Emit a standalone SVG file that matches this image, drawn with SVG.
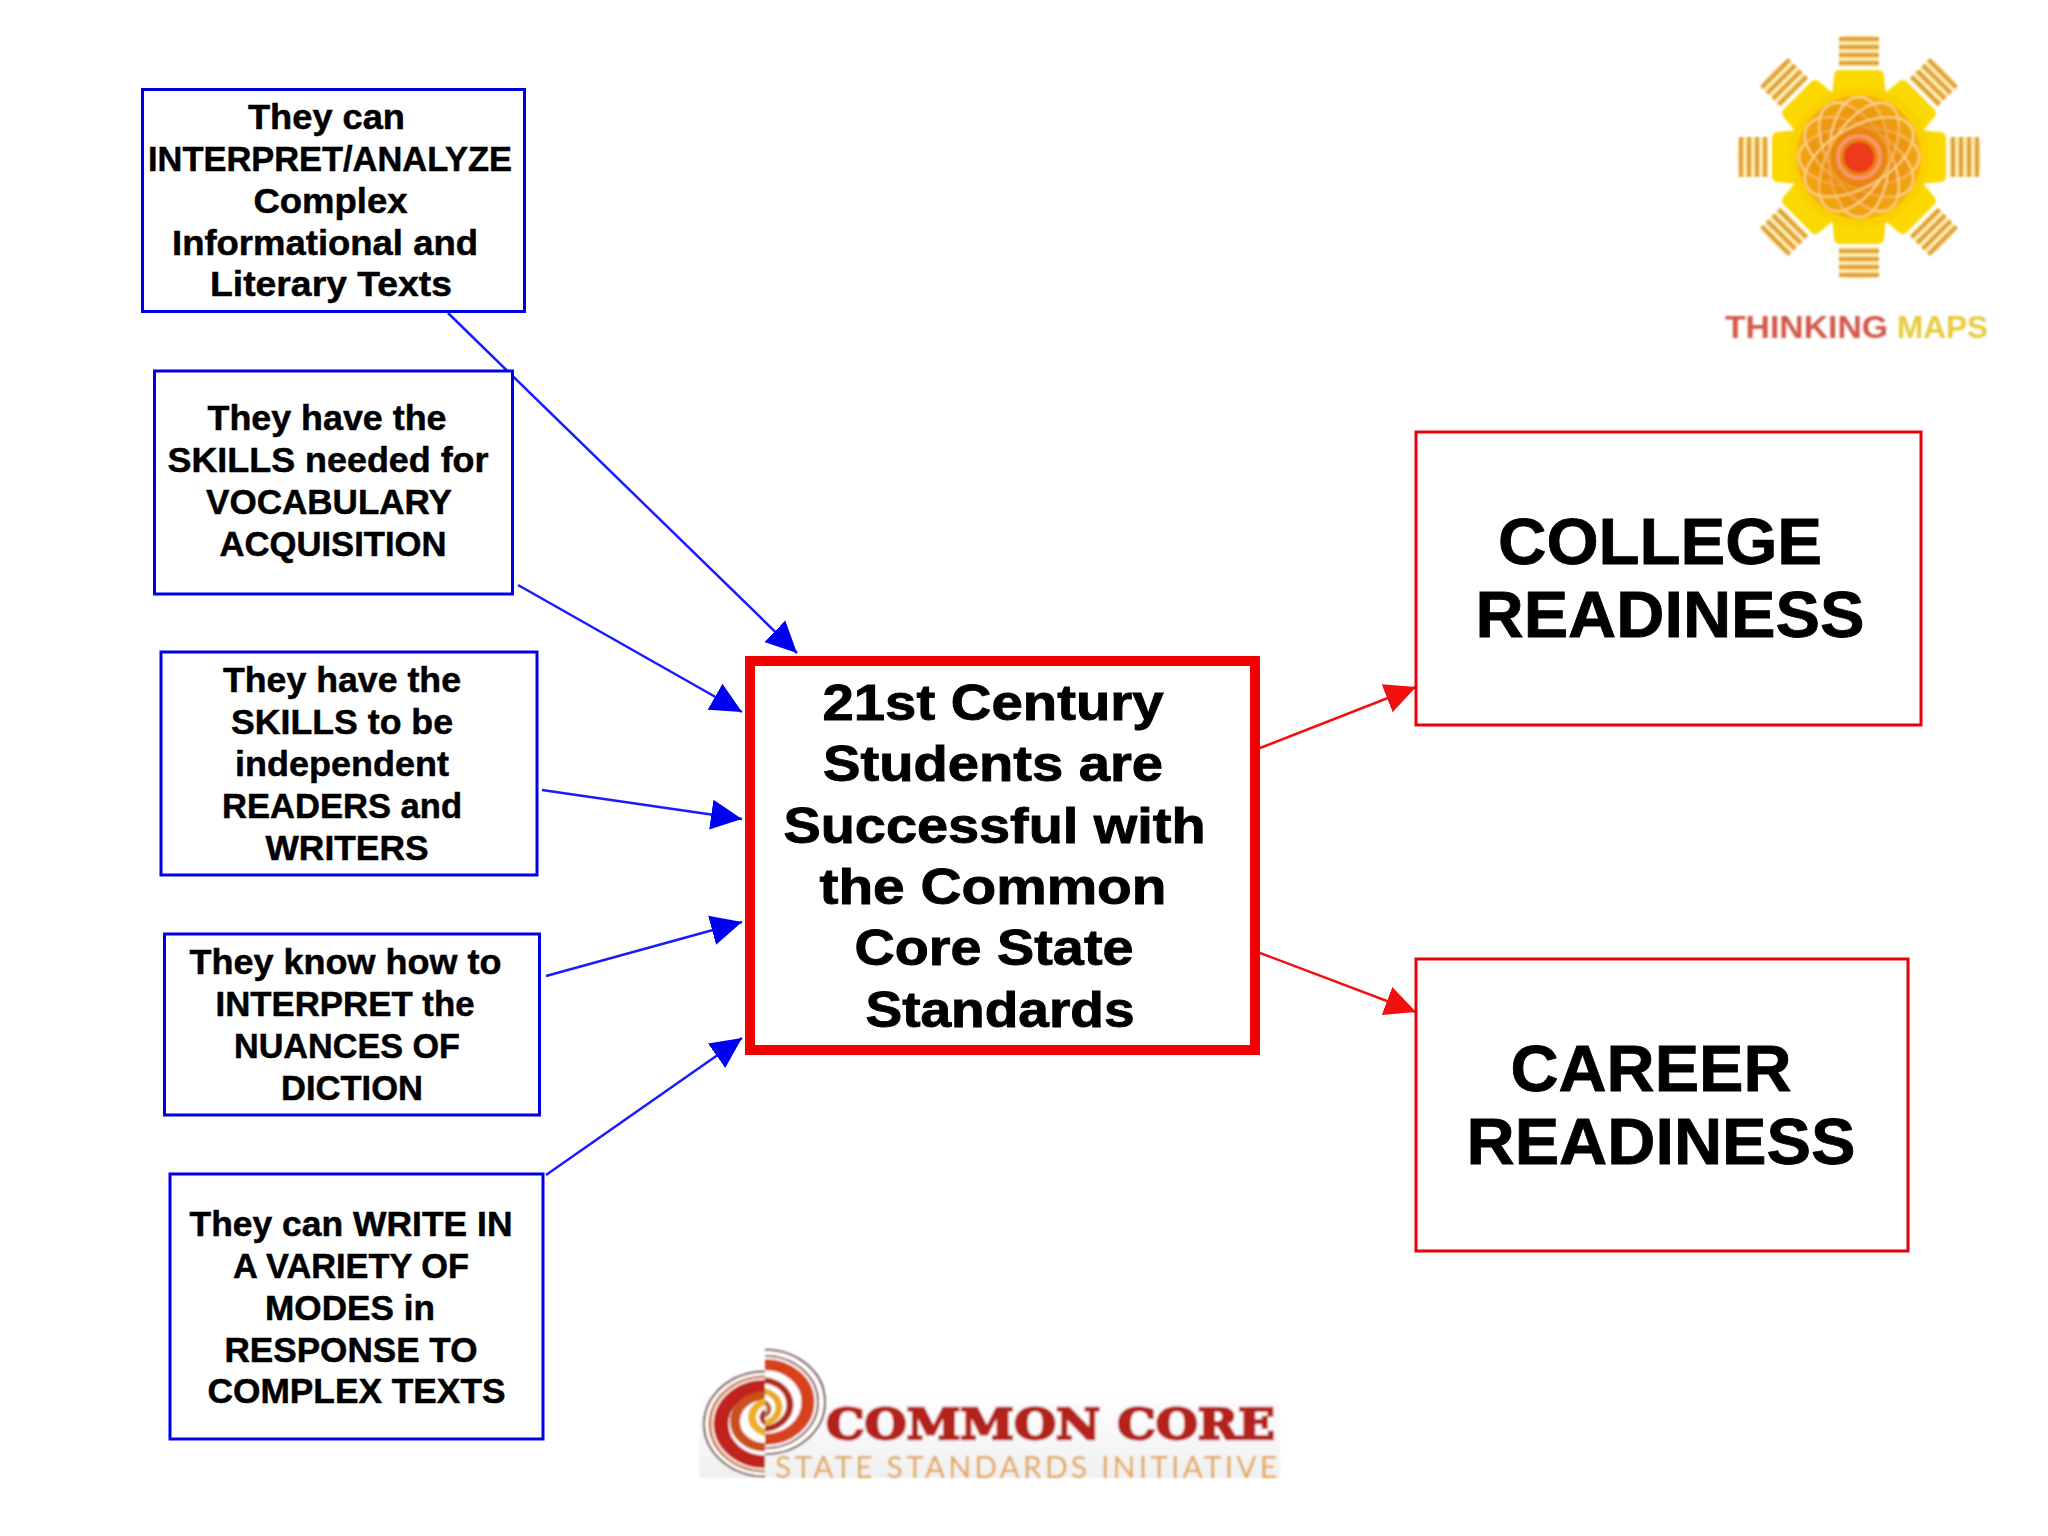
<svg xmlns="http://www.w3.org/2000/svg" xmlns:xlink="http://www.w3.org/1999/xlink" width="2048" height="1536" viewBox="0 0 2048 1536">
<style>
text{font-family:"Liberation Sans",Arial,sans-serif;font-weight:700;fill:#000;text-anchor:middle}
.s,.c,.r{stroke:#000;stroke-width:.5px}
.s{font-size:35.5px}
.c{font-size:50px;stroke-width:.9px}
.r{font-size:64px;stroke-width:.8px}
.bb{fill:#fff;stroke:#0000e6;stroke-width:3}
.rb{fill:#fff;stroke:#e6000a;stroke-width:3}
.ba{stroke:#1a1aff;stroke-width:2.5;fill:none;marker-end:url(#ah)}
.ra{stroke:#f01010;stroke-width:2.5;fill:none;marker-end:url(#rh)}
.petal{fill:#e8800a;fill-opacity:.26;stroke:#ffd88a;stroke-width:1.800}
.arc{fill:none}
</style>
<defs>
<filter id="soft" x="-5%" y="-5%" width="110%" height="110%"><feGaussianBlur stdDeviation=".8"/></filter>
<marker id="ah" markerUnits="userSpaceOnUse" markerWidth="34" markerHeight="32" refX="31" refY="16" orient="auto"><path d="M0 1L31 16L0 31Z" fill="#0000f0"/></marker>
<marker id="rh" markerUnits="userSpaceOnUse" markerWidth="34" markerHeight="32" refX="31" refY="16" orient="auto"><path d="M0 1L31 16L0 31Z" fill="#f01010"/></marker>
<clipPath id="capc"><path d="M-20 -90L-20 -120A123 123 0 0 1 20 -120L20 -90Z"/></clipPath>
<g id="ray">
<path d="M-27 -60L-25 -82Q-24 -87 -19 -87L19 -87Q24 -87 25 -82L27 -60Z" fill="#fbd800"/>
<g clip-path="url(#capc)"><rect x="-20" y="-124" width="40" height="34" fill="#fff0b0"/><path stroke="#e0a030" stroke-width="4.500" d="M-22 -94H22M-22 -102H22M-22 -110H22M-22 -118H22"/></g>
</g>
<ellipse id="pet" cx="0" cy="0" rx="60" ry="30" class="petal"/>
<clipPath id="lh"><rect x="695" y="1360" width="70" height="130"/></clipPath>
<clipPath id="rhc"><rect x="765" y="1340" width="80" height="130"/></clipPath>
<linearGradient id="ccbg" x1="0" y1="0" x2="0" y2="1"><stop offset="0" stop-color="#fff"/><stop offset="1" stop-color="#f0f0f0"/></linearGradient>
</defs>

<g id="connectors">
<path class="ba" d="M448 313L797 653"/>
<path class="ba" d="M518 585L742 712"/>
<path class="ba" d="M542 790L742 819"/>
<path class="ba" d="M546 976L742 922"/>
<path class="ba" d="M546 1175L742 1038"/>
<path class="ra" d="M1260 748L1416 687"/>
<path class="ra" d="M1260 953L1416 1012"/>
</g>

<g id="node1"><rect class="bb" x="142.500" y="89.500" width="382" height="222"/>
<text class="s" x="326.500" y="129" textLength="157" lengthAdjust="spacingAndGlyphs">They can</text><text class="s" x="330" y="171" textLength="364" lengthAdjust="spacingAndGlyphs">INTERPRET/ANALYZE</text><text class="s" x="330.500" y="213" textLength="154" lengthAdjust="spacingAndGlyphs">Complex</text><text class="s" x="325" y="255" textLength="306" lengthAdjust="spacingAndGlyphs">Informational and</text><text class="s" x="331" y="296" textLength="242" lengthAdjust="spacingAndGlyphs">Literary Texts</text></g>
<g id="node2"><rect class="bb" x="154.500" y="371" width="358" height="223"/>
<text class="s" x="327" y="430" textLength="239" lengthAdjust="spacingAndGlyphs">They have the</text><text class="s" x="328" y="472" textLength="321" lengthAdjust="spacingAndGlyphs">SKILLS needed for</text><text class="s" x="329" y="514" textLength="246" lengthAdjust="spacingAndGlyphs">VOCABULARY</text><text class="s" x="333" y="556" textLength="227" lengthAdjust="spacingAndGlyphs">ACQUISITION</text></g>
<g id="node3"><rect class="bb" x="161" y="652" width="376" height="223"/>
<text class="s" x="342" y="692" textLength="238" lengthAdjust="spacingAndGlyphs">They have the</text><text class="s" x="342" y="734" textLength="222" lengthAdjust="spacingAndGlyphs">SKILLS to be</text><text class="s" x="342" y="776" textLength="214" lengthAdjust="spacingAndGlyphs">independent</text><text class="s" x="342" y="818" textLength="240" lengthAdjust="spacingAndGlyphs">READERS and</text><text class="s" x="347" y="860" textLength="163" lengthAdjust="spacingAndGlyphs">WRITERS</text></g>
<g id="node4"><rect class="bb" x="164.500" y="934" width="375" height="181"/>
<text class="s" x="345.500" y="974" textLength="312" lengthAdjust="spacingAndGlyphs">They know how to</text><text class="s" x="345" y="1016" textLength="259" lengthAdjust="spacingAndGlyphs">INTERPRET the</text><text class="s" x="347" y="1058" textLength="226" lengthAdjust="spacingAndGlyphs">NUANCES OF</text><text class="s" x="352" y="1100" textLength="142" lengthAdjust="spacingAndGlyphs">DICTION</text></g>
<g id="node5"><rect class="bb" x="170" y="1174" width="373" height="265"/>
<text class="s" x="351" y="1236" textLength="323" lengthAdjust="spacingAndGlyphs">They can WRITE IN</text><text class="s" x="351" y="1278" textLength="236" lengthAdjust="spacingAndGlyphs">A VARIETY OF</text><text class="s" x="350" y="1320" textLength="170" lengthAdjust="spacingAndGlyphs">MODES in</text><text class="s" x="351" y="1362" textLength="253" lengthAdjust="spacingAndGlyphs">RESPONSE TO</text><text class="s" x="356.500" y="1403" textLength="298" lengthAdjust="spacingAndGlyphs">COMPLEX TEXTS</text></g>
<g id="center"><rect x="750" y="661" width="505" height="389" fill="#fff" stroke="#f00000" stroke-width="10"/>
<text class="c" x="993" y="720" textLength="341" lengthAdjust="spacingAndGlyphs">21st Century</text><text class="c" x="993" y="781" textLength="340" lengthAdjust="spacingAndGlyphs">Students are</text><text class="c" x="994.500" y="843" textLength="422" lengthAdjust="spacingAndGlyphs">Successful with</text><text class="c" x="993" y="904" textLength="347" lengthAdjust="spacingAndGlyphs">the Common</text><text class="c" x="994" y="965" textLength="279" lengthAdjust="spacingAndGlyphs">Core State</text><text class="c" x="1000" y="1027" textLength="269" lengthAdjust="spacingAndGlyphs">Standards</text></g>
<g id="college"><rect class="rb" x="1416" y="432" width="505" height="293"/>
<text class="r" x="1660" y="564" textLength="324" lengthAdjust="spacingAndGlyphs">COLLEGE</text><text class="r" x="1670" y="637" textLength="389" lengthAdjust="spacingAndGlyphs">READINESS</text></g>
<g id="career"><rect class="rb" x="1416" y="959" width="492" height="292"/>
<text class="r" x="1651" y="1091" textLength="281" lengthAdjust="spacingAndGlyphs">CAREER</text><text class="r" x="1661" y="1164" textLength="389" lengthAdjust="spacingAndGlyphs">READINESS</text></g>

<g id="thinking-maps-logo" filter="url(#soft)">
<g transform="translate(1859 157)">
<use xlink:href="#ray"/><use xlink:href="#ray" transform="rotate(45)"/><use xlink:href="#ray" transform="rotate(90)"/><use xlink:href="#ray" transform="rotate(135)"/><use xlink:href="#ray" transform="rotate(180)"/><use xlink:href="#ray" transform="rotate(225)"/><use xlink:href="#ray" transform="rotate(270)"/><use xlink:href="#ray" transform="rotate(315)"/>
<circle r="70" fill="#fbd000"/>
<circle r="62" fill="#f5b010"/>
<use xlink:href="#pet"/><use xlink:href="#pet" transform="rotate(30)"/><use xlink:href="#pet" transform="rotate(60)"/><use xlink:href="#pet" transform="rotate(90)"/><use xlink:href="#pet" transform="rotate(120)"/><use xlink:href="#pet" transform="rotate(150)"/>
<circle r="21" fill="none" stroke="#ff9a7a" stroke-width="3"/>
<circle r="15.500" fill="#ee3a1a"/>
</g>
<text x="1725" y="338" font-size="32" textLength="163" lengthAdjust="spacingAndGlyphs" style="text-anchor:start;fill:#d2584a">THINKING</text>
<text x="1897" y="338" font-size="32" textLength="91" lengthAdjust="spacingAndGlyphs" style="text-anchor:start;fill:#e6cb3c">MAPS</text>
</g>

<g id="common-core-logo" filter="url(#soft)">
<rect x="699" y="1391" width="581" height="87" fill="url(#ccbg)"/>
<g class="arc" clip-path="url(#lh)">
<g transform="translate(765 1424) scale(1 .86)">
<circle r="61" fill="#fff" stroke="#5a2a20" stroke-width="2"/>
<circle r="55" stroke="#c8752f" stroke-width="3"/>
<circle r="44" stroke="#c0241a" stroke-width="15"/>
<circle cy="-3" r="30" stroke="#c9501f" stroke-width="10"/>
<circle cx="6" cy="-8" r="19" stroke="#eeb020" stroke-width="8"/>
<circle cx="6" cy="-8" r="9" stroke="#a8321e" stroke-width="5"/>
</g></g>
<g class="arc" clip-path="url(#rhc)">
<g transform="translate(765 1402) scale(1 .87)">
<circle r="60" fill="#fff" stroke="#5a2a20" stroke-width="2"/>
<circle r="53" stroke="#7a3526" stroke-width="2"/>
<circle r="43" stroke="#d5431c" stroke-width="13"/>
<circle cx="-3" cy="3" r="28" stroke="#b02a1c" stroke-width="7"/>
<circle cx="-5" cy="6" r="19" stroke="#e9ac1e" stroke-width="7"/>
<circle cx="-5" cy="8" r="9" stroke="#b56a30" stroke-width="5"/>
</g></g>
<text x="826" y="1439" font-size="43" textLength="449" lengthAdjust="spacingAndGlyphs" style="font-family:'DejaVu Serif','Liberation Serif',serif;font-weight:700;text-anchor:start;fill:#b5201a;stroke:#b5201a;stroke-width:2.400">COMMON CORE</text>
<text x="775" y="1478" font-size="30" textLength="502" style="font-family:Lato,'Liberation Sans',sans-serif;font-weight:400;text-anchor:start;fill:#e3a64e">STATE STANDARDS INITIATIVE</text>
</g>
</svg>
